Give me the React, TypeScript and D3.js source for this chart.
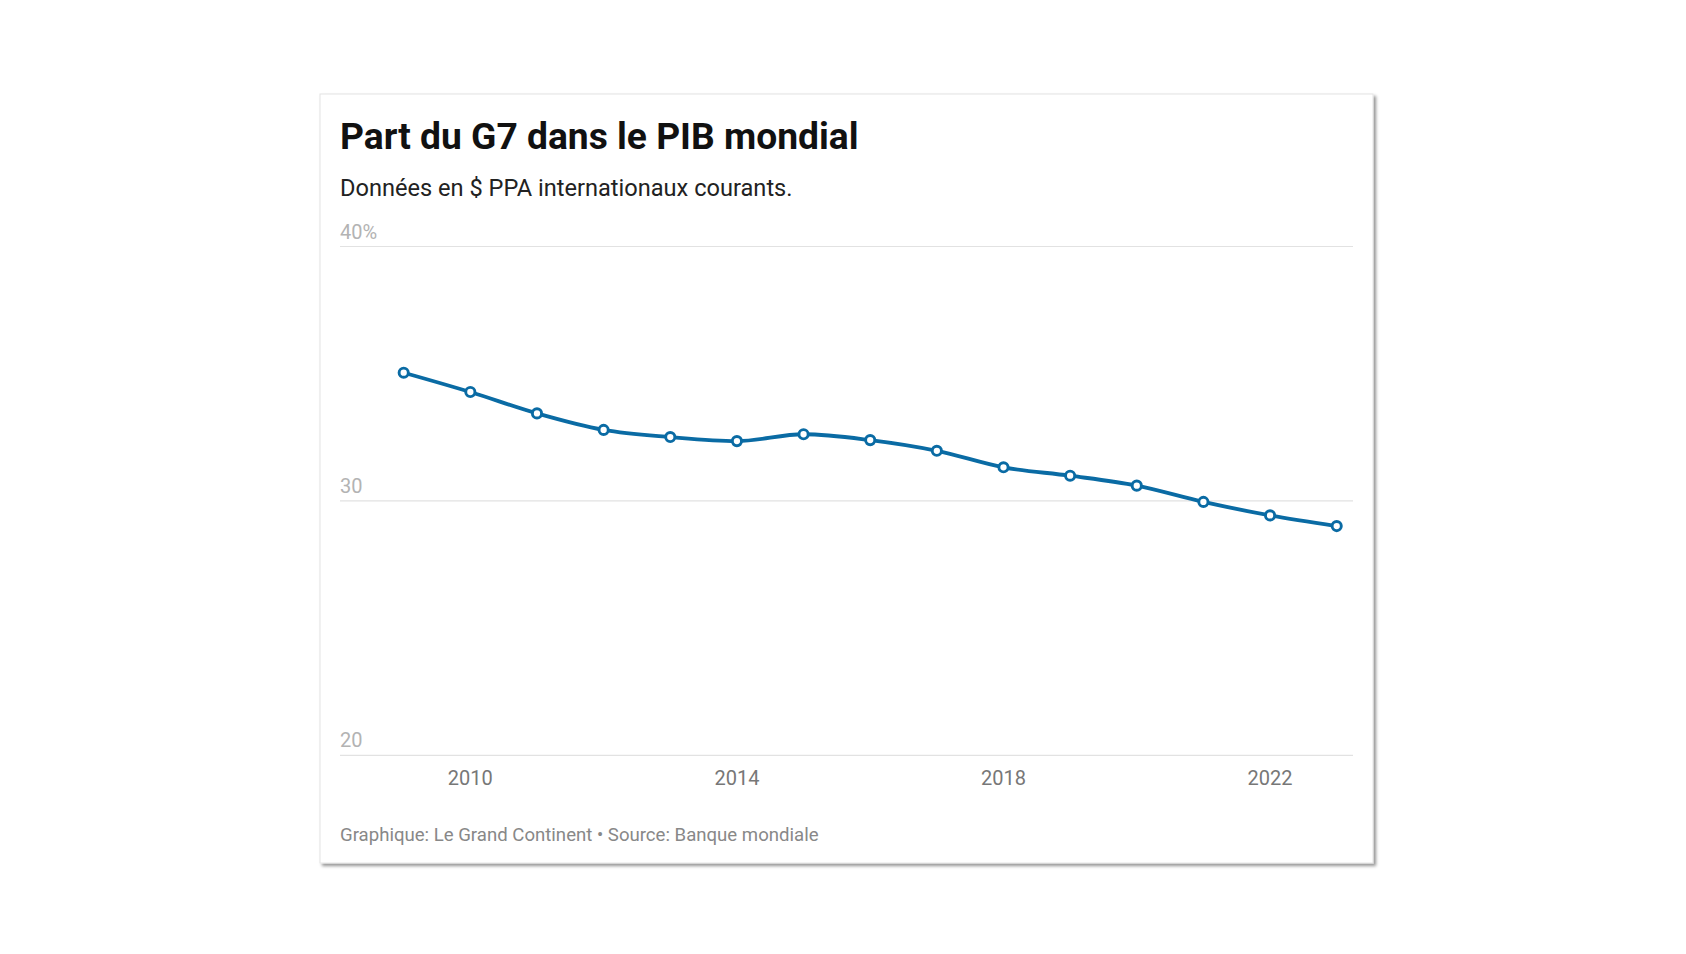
import React from "react";
import * as d3 from "d3";

// Part du G7 dans le PIB mondial, en % (PPA)
const years = [2009, 2010, 2011, 2012, 2013, 2014, 2015, 2016, 2017, 2018, 2019, 2020, 2021, 2022, 2023];
const shares = [35.04, 34.28, 33.44, 32.79, 32.51, 32.35, 32.62, 32.39, 31.97, 31.32, 30.99, 30.6, 29.96, 29.43, 29.01];
const yTicks = [20, 30, 40];
const xTicks = [2010, 2014, 2018, 2022];

const title = "Part du G7 dans le PIB mondial";
const subtitle = "Données en $ PPA internationaux courants.";
const footer = "Graphique: Le Grand Continent • Source: Banque mondiale";

const W = 1686;
const H = 954;
const card = { x: 320, y: 94, w: 1053, h: 769 };
const plot = { left: 340, right: 1353, top: 246.5, bottom: 755.3 };

const App = () => {
  const x = d3.scaleLinear().domain([2009, 2023]).range([403.7, 1336.7]);
  const y = d3.scaleLinear().domain([20, 40]).range([plot.bottom, plot.top]);

  const data = years.map((yr, i) => ({ year: yr, value: shares[i] }));
  const line = d3
    .line<{ year: number; value: number }>()
    .x((d) => x(d.year))
    .y((d) => y(d.value))
    .curve(d3.curveMonotoneX);

  const font = "Roboto, 'Noto Sans', sans-serif";

  return (
    <div style={{ position: "absolute", left: 0, top: 0 }}>
      <svg width={W} height={H} style={{ display: "block", background: "#fff" }}>
        <defs>
          <filter id="cardShadow" x="-5%" y="-5%" width="110%" height="110%">
            <feDropShadow dx="2.5" dy="2.5" stdDeviation="1.5" floodColor="#000" floodOpacity="0.42" />
          </filter>
        </defs>

        {/* card */}
        <rect
          x={card.x}
          y={card.y}
          width={card.w}
          height={card.h}
          fill="#fff"
          stroke="#e4e4e4"
          strokeWidth={1}
          filter="url(#cardShadow)"
        />

        {/* heading */}
        <text x={340} y={149} fontFamily={font} fontWeight={700} fontSize={37.2} fill="#111">
          {title}
        </text>
        <text x={340} y={196} fontFamily={font} fontSize={23.6} fill="#222">
          {subtitle}
        </text>

        {/* horizontal grid + y labels */}
        {yTicks.map((t) => (
          <g key={t}>
            <line x1={plot.left} x2={plot.right} y1={y(t)} y2={y(t)} stroke="#e2e2e2" strokeWidth={1.2} />
            <text x={340} y={y(t) - 8} fontFamily={font} fontSize={20} fill="#b3b3b3">
              {t === 40 ? "40%" : t}
            </text>
          </g>
        ))}

        {/* x labels */}
        {xTicks.map((t) => (
          <text key={t} x={x(t)} y={785} textAnchor="middle" fontFamily={font} fontSize={20} fill="#777">
            {t}
          </text>
        ))}

        {/* series */}
        <path d={line(data) ?? ""} fill="none" stroke="#0a6ba4" strokeWidth={3.8} strokeLinejoin="round" />
        {data.map((d) => (
          <circle key={d.year} cx={x(d.year)} cy={y(d.value)} r={4.6} fill="#fff" stroke="#0a6ba4" strokeWidth={2.9} />
        ))}

        <text x={340} y={840.5} fontFamily={font} fontSize={18.6} fill="#888">
          {footer}
        </text>
      </svg>
    </div>
  );
};

export default App;
